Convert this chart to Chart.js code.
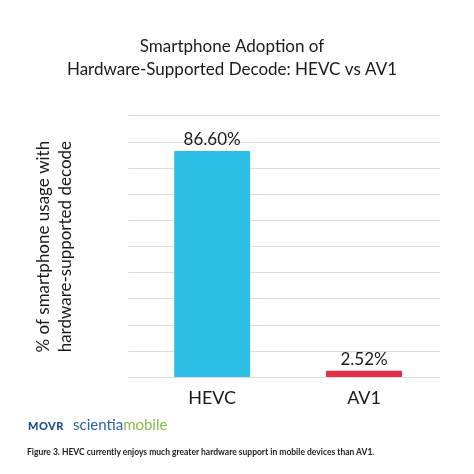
<!DOCTYPE html>
<html>
<head>
<meta charset="utf-8">
<script src="https://cdn.jsdelivr.net/npm/chart.js@4.4.0/dist/chart.umd.min.js"></script>
<style>
	html, body { margin: 0; padding: 0; background: #fff; }
	#wrap { position: relative; width: 474px; height: 474px; }
	#wrap canvas { position: absolute; left: 0; top: 0; }
	#logo { position: absolute; left: 28px; top: 414px; font-family: Lato, sans-serif; white-space: nowrap; }
	#logo .movr { font-size: 11px; font-weight: 900; color: #1d4f8f; letter-spacing: 0.5px; margin-right: 9px; }
	#logo .sci { font-size: 15px; color: #2c5fa6; }
	#logo .mob { font-size: 15px; color: #86bd45; }
	#caption { position: absolute; left: 27px; top: 447px; font-family: Lato, sans-serif; font-size: 8.5px; font-weight: 700; color: #222; white-space: nowrap; }
</style>
</head>
<body>
<div id="wrap">
	<canvas id="chart" width="474" height="474"></canvas>
	<div id="logo"><span class="movr">MOVR</span><span class="sci">scientia</span><span class="mob">mobile</span></div>
	<div id="caption">Figure 3. HEVC currently enjoys much greater hardware support in mobile devices than AV1.</div>
</div>
<script>
var categories = ['HEVC', 'AV1'];
var adoption = [86.60, 2.52];
var bar_colors = ['#2ec0e4', '#e0304a'];

var FONT = 'Lato, sans-serif';

/* value labels above each bar */
var value_labels = {
	id: 'value_labels',
	afterDatasetsDraw: function (chart) {
		var ctx = chart.ctx;
		var meta = chart.getDatasetMeta(0);
		ctx.save();
		ctx.font = '17px ' + FONT;
		ctx.fillStyle = '#1a1a1a';
		ctx.textAlign = 'center';
		ctx.textBaseline = 'bottom';
		meta.data.forEach(function (bar, i) {
			var p = bar.getProps(['x', 'y'], true);
			ctx.fillText(adoption[i].toFixed(2) + '%', p.x, p.y - 3);
		});
		ctx.restore();
	}
};

var ctx = document.getElementById('chart').getContext('2d');
new Chart(ctx, {
	type: 'bar',
	data: {
		labels: categories,
		datasets: [{
			data: adoption,
			backgroundColor: bar_colors,
			categoryPercentage: 1.0,
			barPercentage: 0.5
		}]
	},
	options: {
		responsive: false,
		animation: false,
		layout: {
			padding: { left: 24, right: 34, top: 0, bottom: 63 }
		},
		plugins: {
			legend: { display: false },
			tooltip: { enabled: false },
			title: {
				display: true,
				text: ['Smartphone Adoption of', 'Hardware-Supported Decode: HEVC vs AV1'],
				color: '#1a1a1a',
				font: { family: FONT, size: 17, weight: 'normal', lineHeight: 1.35 },
				padding: { top: 35, bottom: 35 }
			}
		},
		scales: {
			x: {
				grid: { display: false },
				border: { display: false },
				ticks: {
					color: '#1a1a1a',
					font: { family: FONT, size: 18 },
					padding: 2
				}
			},
			y: {
				min: 0,
				max: 100,
				grid: { color: '#dcdcdc', lineWidth: 1 },
				border: { display: false },
				ticks: { display: false, stepSize: 10 },
				title: {
					display: true,
					text: ['% of smartphone usage with', 'hardware-supported decode'],
					color: '#1a1a1a',
					font: { family: FONT, size: 17, lineHeight: 1.3 },
					padding: { top: 8, bottom: 52 }
				}
			}
		}
	},
	plugins: [value_labels]
});
</script>
</body>
</html>
